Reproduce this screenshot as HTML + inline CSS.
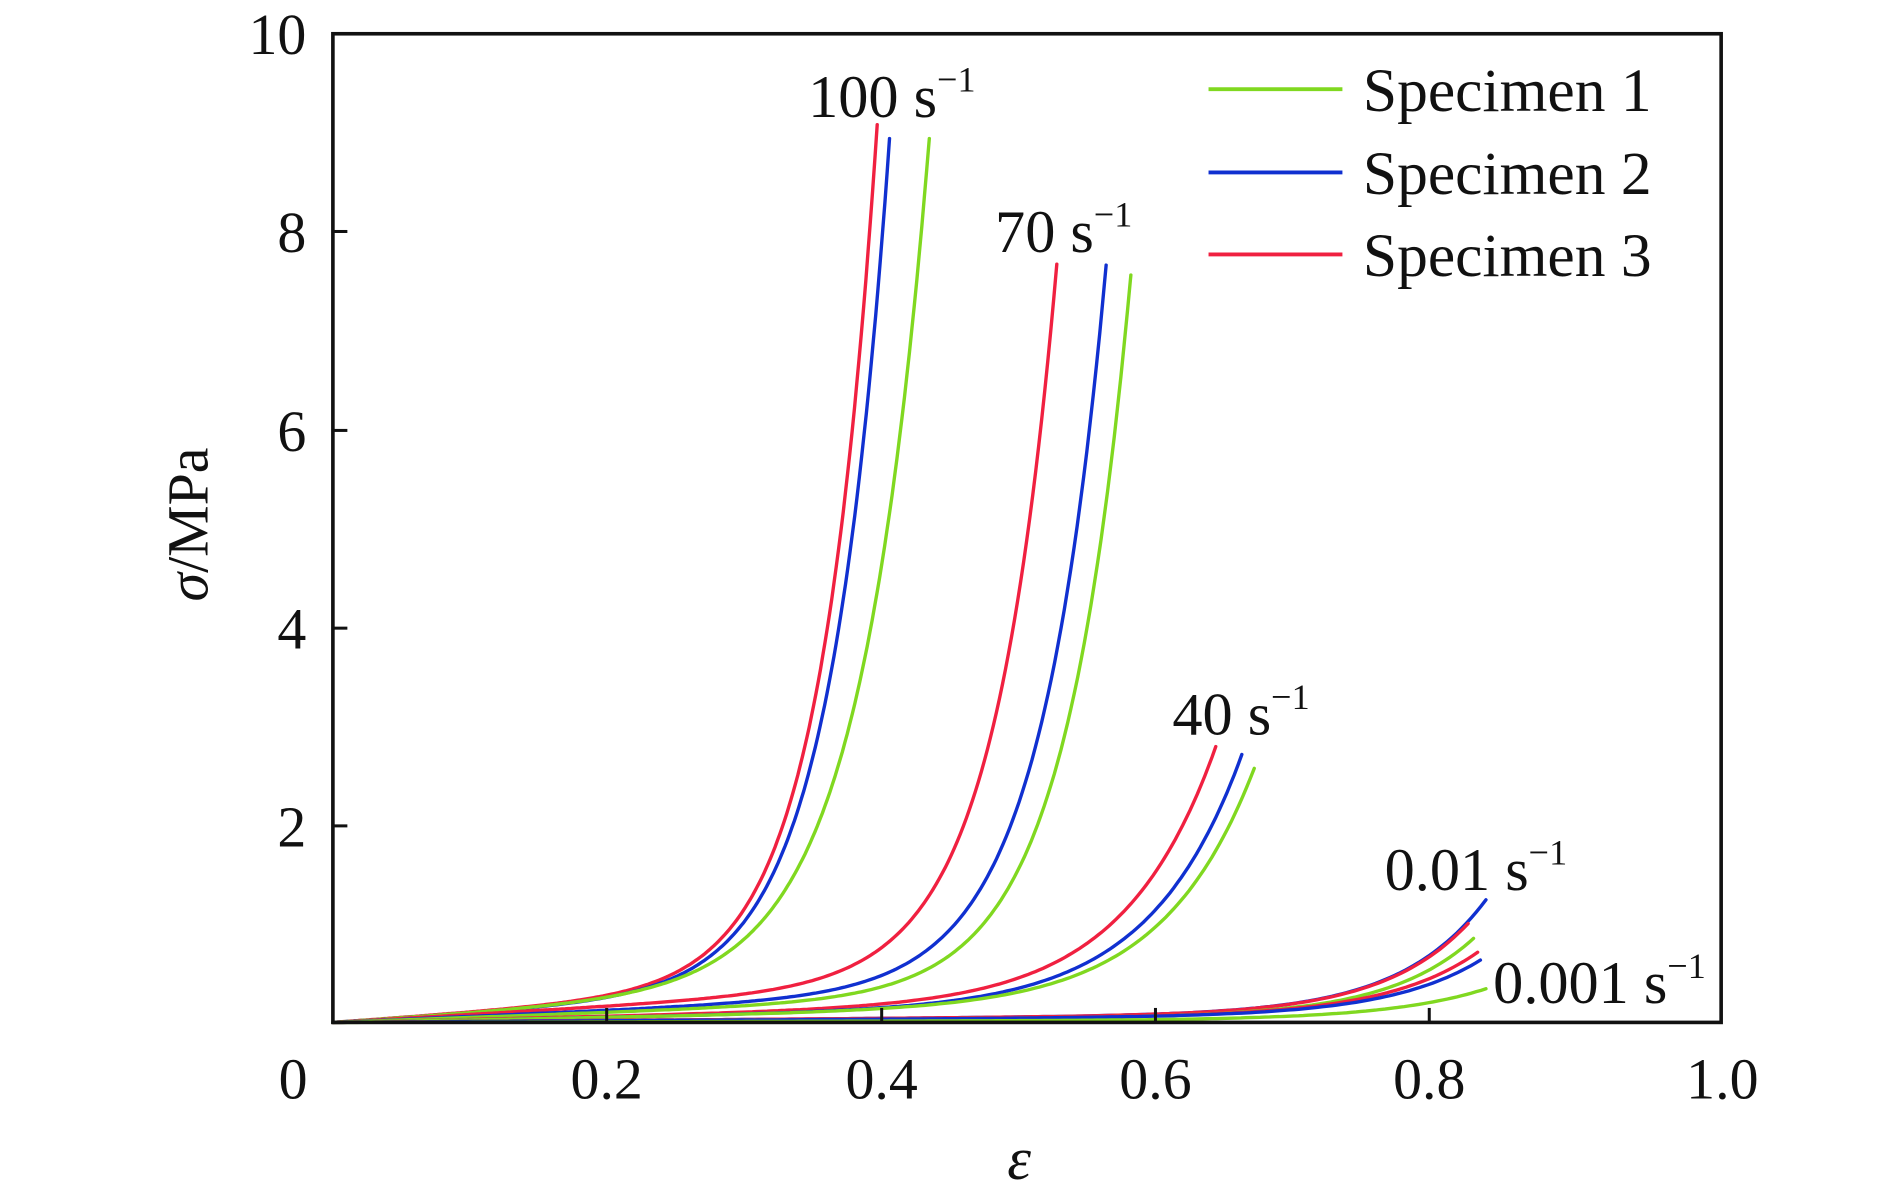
<!DOCTYPE html>
<html><head><meta charset="utf-8"><style>
html,body{margin:0;padding:0;background:#fff;}
svg{display:block;}
text{font-family:"Liberation Serif",serif;fill:#111;}
</style></head><body>
<svg id="s" width="1890" height="1190" viewBox="0 0 1567 987" preserveAspectRatio="none" xmlns="http://www.w3.org/2000/svg">
<g id="curves" fill="none" stroke-width="2.8" stroke-linecap="round"></g>
<rect x="276" y="28" width="1151" height="820" fill="none" stroke="#111" stroke-width="3"/>
<g stroke="#111" stroke-width="2.5">
<line x1="503" y1="848" x2="503" y2="836"/><line x1="731" y1="848" x2="731" y2="836"/>
<line x1="958" y1="848" x2="958" y2="836"/><line x1="1185" y1="848" x2="1185" y2="836"/>
<line x1="276" y1="685" x2="288" y2="685"/><line x1="276" y1="521" x2="288" y2="521"/>
<line x1="276" y1="357" x2="288" y2="357"/><line x1="276" y1="192" x2="288" y2="192"/>
</g>
<g font-size="48" text-anchor="end">
<text x="254" y="45">10</text><text x="254" y="209">8</text><text x="254" y="374">6</text>
<text x="254" y="538">4</text><text x="254" y="702">2</text>
</g>
<g font-size="48" text-anchor="middle">
<text x="243" y="911">0</text><text x="503" y="911">0.2</text><text x="731" y="911">0.4</text>
<text x="958" y="911">0.6</text><text x="1185" y="911">0.8</text><text x="1428" y="911">1.0</text>
</g>
<text x="845" y="978" font-size="50" font-style="italic" text-anchor="middle">ε</text>
<text transform="translate(172,435) rotate(-90)" font-size="48" text-anchor="middle"><tspan font-style="italic">σ</tspan>/MPa</text>
<g font-size="50">
<text x="670" y="97">100 s<tspan font-size="30" dy="-21">−1</tspan></text>
<text x="825" y="209">70 s<tspan font-size="30" dy="-21">−1</tspan></text>
<text x="972" y="609">40 s<tspan font-size="30" dy="-21">−1</tspan></text>
<text x="1148" y="738">0.01 s<tspan font-size="30" dy="-21">−1</tspan></text>
<text x="1238" y="832">0.001 s<tspan font-size="30" dy="-21">−1</tspan></text>
</g>
<g stroke-width="3.2">
<line x1="1002" y1="74" x2="1113" y2="74" stroke="#80d820"/>
<line x1="1002" y1="143" x2="1113" y2="143" stroke="#1030d0"/>
<line x1="1002" y1="211" x2="1113" y2="211" stroke="#f02040"/>
</g>
<g font-size="51">
<text x="1130" y="92">Specimen 1</text><text x="1130" y="161">Specimen 2</text><text x="1130" y="229">Specimen 3</text>
</g>
</svg>
<script>
var G="#80d820",B="#1030d0",R="#f02040";
var cs=[[R,.397,9.08,24,1.0],[B,.406,8.94,23,0.9],[G,.435,8.94,20,0.9],
[R,.528,7.67,22,0.8],[B,.564,7.66,21,0.6],[G,.582,7.56,21,0.5],
[R,.644,2.79,15,0.3],[B,.663,2.71,15,0.25],[G,.672,2.57,15,0.25],
[B,.841,1.24,16,0.1],[R,.828,1.0,16,0.1],[G,.832,.85,16,0.08],
[R,.835,.71,15,0.08],[B,.837,.63,15,0.08],[G,.841,.34,14,0.03]];
var g=document.getElementById('curves'),h='';
cs.forEach(function(c){var d='',n=240,a=c[4],b=(c[2]-a*c[1])/(Math.exp(c[3]*c[1])-1);
for(var i=0;i<=n;i++){var e=c[1]*i/n,s=a*e+b*(Math.exp(c[3]*e)-1);
var x=276+e*1136.7,y=848-s*82;d+=(i?'L':'M')+x.toFixed(1)+','+y.toFixed(1);}
h+='<path d="'+d+'" stroke="'+c[0]+'"/>';});
g.innerHTML=h;
</script>
</body></html>
